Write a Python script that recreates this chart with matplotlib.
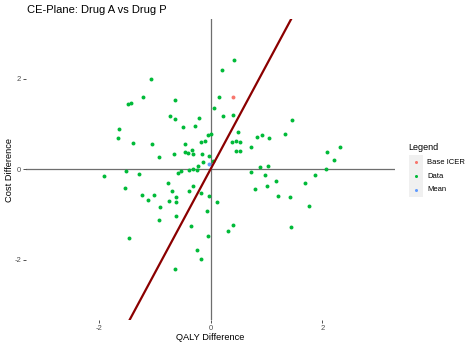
import numpy as np
import matplotlib
matplotlib.use("Agg")
import matplotlib.pyplot as plt
from matplotlib.patches import Rectangle
from matplotlib.lines import Line2D

plt.rcParams["font.family"] = ["Liberation Sans", "DejaVu Sans"]
plt.rcParams["axes.unicode_minus"] = False

# simulated incremental QALYs / costs
qaly_diff = [0.42, 0.21, -1.07, -1.20, -0.63, -1.48, -1.42, 0.16, 0.06, -0.73,
             -0.64, -0.20, 0.23, 0.40, 1.46, -1.63, -0.50, -0.28, -1.65, 0.49,
             -1.38, -1.04, -0.45, -0.05, 0.01, -0.17, -0.10, 0.39, 0.45, 0.52,
             0.83, 0.92, 1.05, 1.34, 0.72, -0.45, -0.41, -0.33, -0.31, -0.16,
             -0.03, -0.92, -0.66, 0.46, 0.53, 2.31, 2.08, 2.20, -0.14, -0.22,
             0.05, -1.91, -1.51, -1.28, -0.59, -0.52, -0.39, -0.32, -0.24, 0.72,
             0.88, 1.03, 2.07, 0.98, 1.87, 1.18, 1.69, 0.79, 1.01, -1.53,
             -0.76, -0.68, -0.31, -0.38, -1.23, -1.01, -1.12, -0.74, -0.62, -0.61,
             -0.17, -0.02, 0.11, 1.21, 1.43, 1.76, -0.91, -0.07, -0.93, -0.62,
             -0.34, 0.41, 0.31, 1.44, -0.04, -1.46, -0.24, -0.17, -0.64]
cost_diff = [2.41, 2.19, 1.99, 1.59, 1.53, 1.44, 1.46, 1.60, 1.36, 1.17,
             1.10, 1.13, 1.18, 1.21, 1.08, 0.88, 0.93, 0.96, 0.70, 0.83,
             0.58, 0.56, 0.56, 0.76, 0.78, 0.61, 0.63, 0.60, 0.62, 0.60,
             0.71, 0.75, 0.70, 0.79, 0.50, 0.39, 0.37, 0.43, 0.34, 0.34,
             0.30, 0.28, 0.33, 0.40, 0.40, 0.49, 0.38, 0.20, 0.15, 0.08,
             0.19, -0.15, -0.04, -0.10, -0.09, -0.04, -0.02, 0.00, -0.02, -0.05,
             0.04, 0.08, 0.01, -0.13, -0.13, -0.25, -0.31, -0.44, -0.36, -0.41,
             -0.30, -0.47, -0.38, -0.47, -0.56, -0.56, -0.68, -0.70, -0.62, -0.73,
             -0.53, -0.60, -0.72, -0.59, -0.62, -0.82, -0.83, -0.93, -1.13, -1.04,
             -1.25, -1.23, -1.37, -1.27, -1.47, -1.52, -1.79, -1.98, -2.21]

base_icer = (0.41, 1.59)
mean_pt = (-0.03, 0.11)
wtp_slope = 2.3

series = ["Base ICER", "Data", "Mean"]
colors = ["#F8766D", "#00BA38", "#619CFF"]

fig = plt.figure(figsize=(4.74, 3.47), dpi=100)
ax = fig.add_axes([26 / 474, 1 - 320 / 347, 369 / 474, 301 / 347])

ax.axhline(0, color="#6E6E6E", lw=0.9, zorder=1)
ax.axvline(0, color="#6E6E6E", lw=0.9, zorder=1)
ax.scatter(qaly_diff, cost_diff, s=8, color=colors[1], linewidths=0, zorder=2)
ax.axline((0, 0), slope=wtp_slope, color="#8B0000", lw=1.6, zorder=3)
ax.scatter([base_icer[0]], [base_icer[1]], s=8, color=colors[0], linewidths=0, zorder=4)
ax.scatter([mean_pt[0]], [mean_pt[1]], s=8, color=colors[2], linewidths=0, zorder=4)

ax.set_xlim(-3.3, 3.3)
ax.set_ylim(-3.33, 3.32)
ax.set_xticks([-2, 0, 2])
ax.set_yticks([-2, 0, 2])
for s in ax.spines.values():
    s.set_visible(False)
ax.tick_params(colors="#333333", labelcolor="#4D4D4D", labelsize=5.5, length=2, width=0.6, pad=1.5)
ax.set_xlabel("QALY Difference", fontsize=6.7, labelpad=1)
ax.set_ylabel("Cost Difference", fontsize=6.7)
ax.yaxis.set_label_coords(-12 / 369, 0.5)
fig.text(27 / 474, 1 - 10 / 347, "CE-Plane: Drug A vs Drug P", fontsize=8.0, va="center", ha="left")

# legend drawn by hand with grey key boxes
fig.text(408 / 474, 1 - 147 / 347, "Legend", fontsize=6.5, va="center", ha="left")
for i, (name, c) in enumerate(zip(series, colors)):
    yc = 162 + i * 14
    fig.patches.append(Rectangle((409 / 474, 1 - (yc + 7) / 347), 14 / 474, 14 / 347,
                                 transform=fig.transFigure, facecolor="#F0F0F0", edgecolor="none"))
    fig.lines.append(Line2D([416 / 474], [1 - yc / 347], transform=fig.transFigure,
                            marker="o", ms=2.2, color=c, mec="none", ls="none"))
    fig.text(427 / 474, 1 - yc / 347, name, fontsize=5.5, va="center", ha="left")

fig.savefig("out.png", dpi=100)
